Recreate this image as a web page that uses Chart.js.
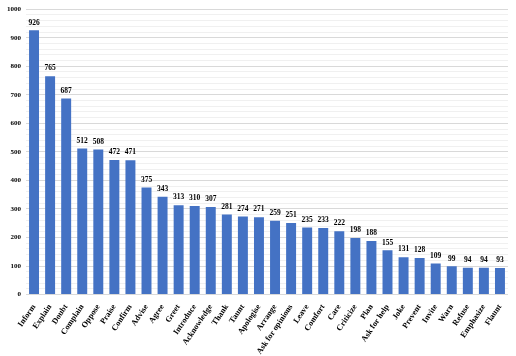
<!DOCTYPE html>
<html>
<head>
<meta charset="utf-8">
<script src="https://cdn.jsdelivr.net/npm/chart.js@4/dist/chart.umd.min.js"></script>
<style>
html,body{margin:0;padding:0;background:#fff;}
#wrap{width:516px;height:356px;position:relative;}
</style>
</head>
<body>
<div id="wrap"><canvas id="c" width="516" height="356"></canvas></div>
<script>
const categories = ["Inform","Explain","Doubt","Complain","Oppose","Praise","Confirm","Advise","Agree","Greet","Introduce","Acknowledge","Thank","Taunt","Apologise","Arrange","Ask for opinions","Leave","Comfort","Care","Criticize","Plan","Ask for help","Joke","Prevent","Invite","Warn","Refuse","Emphasize","Flaunt"];
const counts = [926,765,687,512,508,472,471,375,343,313,310,307,281,274,271,259,251,235,233,222,198,188,155,131,128,109,99,94,94,93];
const yMin = 0, yMax = 1000, yStep = 20, yLabelStep = 100;

const FONT = "'Liberation Serif','Times New Roman',serif";

const valueLabels = {
  id: 'valueLabels',
  afterDatasetsDraw(chart) {
    const ctx = chart.ctx;
    const meta = chart.getDatasetMeta(0);
    ctx.save();
    ctx.font = "bold 7.5px " + FONT;
    ctx.fillStyle = '#000';
    ctx.textAlign = 'center';
    ctx.textBaseline = 'bottom';
    meta.data.forEach((bar, i) => {
      ctx.fillText(String(chart.data.datasets[0].data[i]), bar.x, bar.y - 4);
    });
    ctx.restore();
  }
};

new Chart(document.getElementById('c'), {
  type: 'bar',
  data: {
    labels: categories,
    datasets: [{ data: counts, backgroundColor: '#4472C4', barPercentage: 0.62, categoryPercentage: 1.0 }]
  },
  options: {
    responsive: false,
    animation: false,
    devicePixelRatio: 1,
    layout: { padding: { left: 2, right: 8, top: 3, bottom: 0 } },
    plugins: { legend: { display: false }, tooltip: { enabled: false } },
    scales: {
      x: {
        grid: { display: false },
        border: { display: false },
        ticks: {
          font: { family: FONT, size: 8.2, weight: 'bold' },
          color: '#000',
          maxRotation: 56, minRotation: 56,
          autoSkip: false,
          padding: 0
        }
      },
      y: {
        min: yMin, max: yMax,
        border: { display: false },
        grid: {
          color: (c) => (c.tick && c.tick.value % yLabelStep === 0) ? '#d9d9d9' : '#f0f0f0',
          lineWidth: 1,
          drawTicks: false
        },
        ticks: {
          stepSize: yStep,
          autoSkip: false,
          font: { family: FONT, size: 7, weight: 'bold' },
          color: '#000',
          padding: 5,
          callback: (v) => (v % yLabelStep === 0) ? String(v) : ''
        }
      }
    }
  },
  plugins: [valueLabels]
});
</script>
</body>
</html>
